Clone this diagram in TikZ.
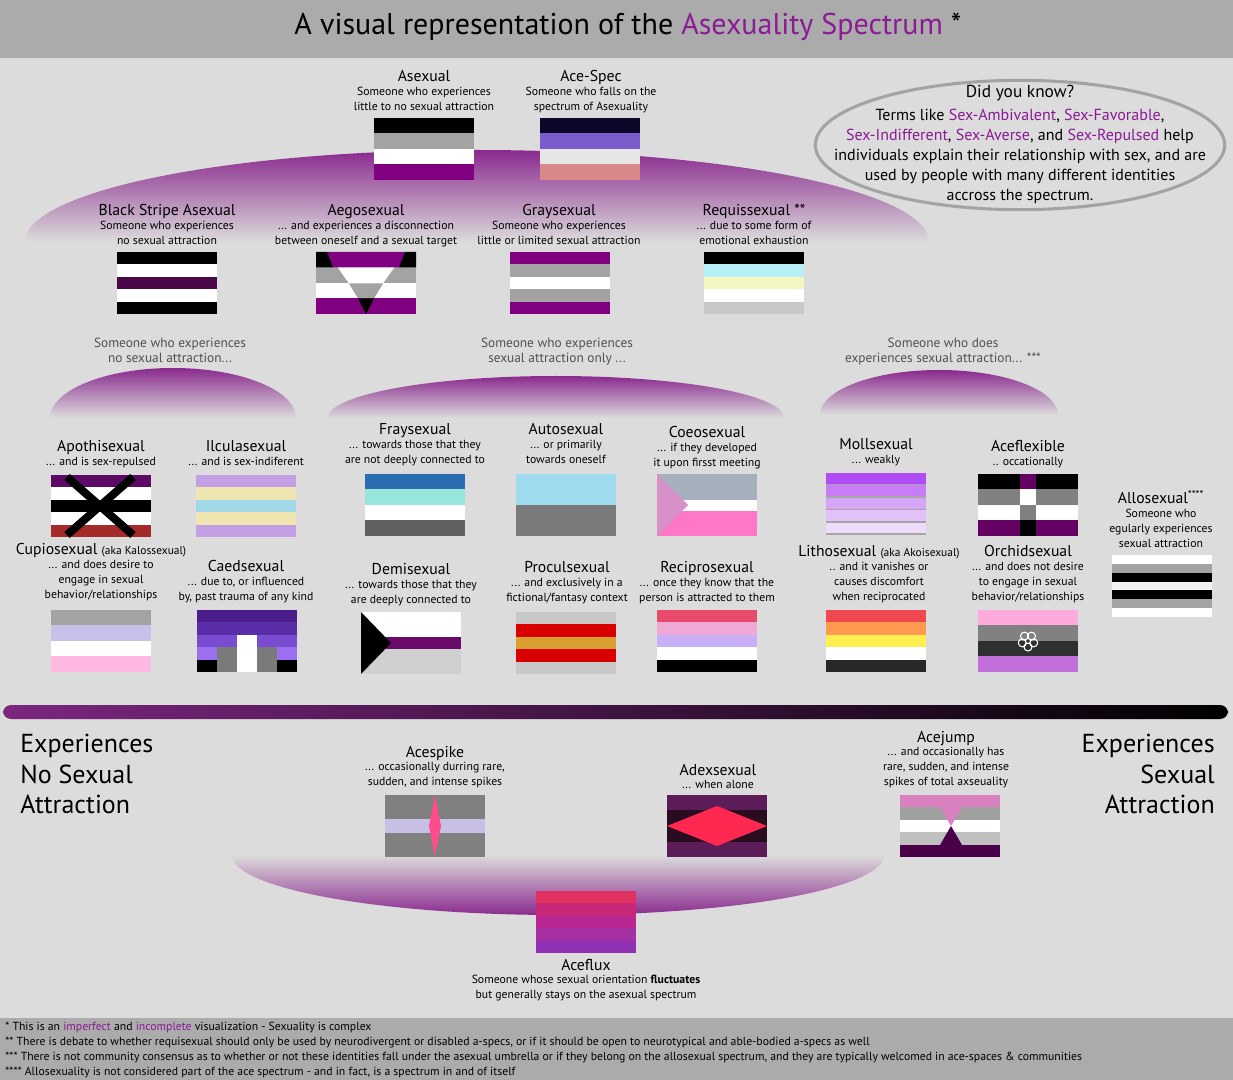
\documentclass[tikz,border=0pt]{standalone}
\usepackage{fontspec}
\setmainfont{PT Sans}
\usetikzlibrary{shapes.geometric}
\definecolor{bg}{HTML}{DCDCDC}
\definecolor{bar}{HTML}{ABABAB}
\definecolor{pp}{HTML}{8B1A95}
\definecolor{arc}{HTML}{8A2A8E}
\definecolor{sub}{HTML}{505050}
% flag colours
\definecolor{bk}{HTML}{000000}\definecolor{wh}{HTML}{FFFFFF}
\definecolor{gy}{HTML}{A3A3A3}\definecolor{pu}{HTML}{800080}
\definecolor{asA}{HTML}{0C0628}\definecolor{asB}{HTML}{7B5CCC}\definecolor{asC}{HTML}{E6E6E6}\definecolor{asD}{HTML}{D88888}
\definecolor{dpu}{HTML}{4A0848}
\definecolor{rqB}{HTML}{B8F0F8}\definecolor{rqC}{HTML}{F4F8C0}\definecolor{lg}{HTML}{C8C8C8}
\definecolor{apA}{HTML}{5C0A66}\definecolor{apE}{HTML}{A52A2A}
\definecolor{ilA}{HTML}{C3A0E5}\definecolor{ilB}{HTML}{EFE5B0}\definecolor{ilC}{HTML}{A0D8E8}
\definecolor{frA}{HTML}{2A6CB2}\definecolor{frB}{HTML}{96E6DC}\definecolor{frD}{HTML}{606060}
\definecolor{auA}{HTML}{9EDBEF}\definecolor{auB}{HTML}{7A7A7A}
\definecolor{coA}{HTML}{A6B0BC}\definecolor{coC}{HTML}{FF78C8}\definecolor{coT}{HTML}{D890C8}
\definecolor{moA}{HTML}{B04CF5}\definecolor{moB}{HTML}{C87CF5}\definecolor{moC}{HTML}{D4A6F5}\definecolor{moD}{HTML}{E2C0F8}\definecolor{moE}{HTML}{EEDCFC}
\definecolor{afP}{HTML}{650065}\definecolor{mg}{HTML}{808080}
\definecolor{cuB}{HTML}{C8C0E8}\definecolor{cuD}{HTML}{FFB8E0}
\definecolor{caA}{HTML}{4B1E8C}\definecolor{caB}{HTML}{5A2EA8}\definecolor{caC}{HTML}{7A4CD0}\definecolor{caD}{HTML}{9A70F0}
\definecolor{deP}{HTML}{6A0A6A}\definecolor{deG}{HTML}{D0D0D0}
\definecolor{prR}{HTML}{D80000}\definecolor{prG}{HTML}{D8A030}
\definecolor{reA}{HTML}{E84A6C}\definecolor{reB}{HTML}{F0A8D4}\definecolor{reC}{HTML}{C8B0F8}
\definecolor{liA}{HTML}{F04850}\definecolor{liB}{HTML}{FF9A50}\definecolor{liC}{HTML}{FFF050}\definecolor{dk}{HTML}{282828}
\definecolor{orA}{HTML}{FFAADC}\definecolor{orD}{HTML}{C070D8}\definecolor{orC}{HTML}{303030}
\definecolor{spL}{HTML}{C8C0E4}\definecolor{spP}{HTML}{FF4C8C}
\definecolor{adA}{HTML}{5C1C58}\definecolor{adB}{HTML}{2A0C20}\definecolor{adR}{HTML}{FF2850}
\definecolor{jpA}{HTML}{D880C0}\definecolor{jpE}{HTML}{4A0048}\definecolor{jpB}{HTML}{A0A0A0}\definecolor{jpD}{HTML}{C0C0C0}
\definecolor{fxA}{HTML}{E03060}\definecolor{fxB}{HTML}{C82878}\definecolor{fxC}{HTML}{B82890}\definecolor{fxD}{HTML}{A430A4}\definecolor{fxE}{HTML}{9030B4}
\newcommand\fl[4]{\foreach \c [count=\i from 0] in {#4}{\fill[\c] ({#1},{#2+\i*62/#3}) rectangle ++(100,62/#3);}}
\newcommand\lab[6]{% name, x, y(baseline of title), title, desc, ny
  \node[nm] (#1) at (#2,#3) {#4};
  \node[ds] (#1d) at (#2,#3+#6) {#5};}
\begin{document}
\begin{tikzpicture}[x=0.75pt,y=-0.75pt,
  nm/.style={anchor=base,inner sep=0,font=\fontsize{11.8}{13}\selectfont},
  ds/.style={anchor=north,inner sep=0,align=center,font=\fontsize{8.8}{11.25}\selectfont},
  gt/.style={anchor=north,inner sep=0,align=center,text=sub,font=\fontsize{10}{11.25}\selectfont},
  big/.style={inner sep=0,font=\fontsize{19.5}{22.5}\selectfont},
  fn/.style={anchor=base west,inner sep=0,font=\fontsize{8.8}{9}\selectfont}]
\useasboundingbox (0,0) rectangle (1233,1080);
\fill[bg] (0,0) rectangle (1233,1080);
\fill[bar] (0,0) rectangle (1233,58);
\fill[bar] (0,1018) rectangle (1233,1080);
% domes
\shade[top color=arc,bottom color=bg] (25,242) arc[start angle=180,end angle=360,x radius=452,y radius=92] -- cycle;
\shade[top color=arc,bottom color=bg] (50,418) arc[start angle=180,end angle=360,x radius=123,y radius=50] -- cycle;
\shade[top color=arc,bottom color=bg] (328,418) arc[start angle=180,end angle=360,x radius=228,y radius=42] -- cycle;
\shade[top color=arc,bottom color=bg] (820,415) arc[start angle=180,end angle=360,x radius=119,y radius=45] -- cycle;
\shade[bottom color=arc,top color=bg] (232,855) arc[start angle=180,end angle=0,x radius=326,y radius=60] -- cycle;
% spectrum bar
\shade[left color=arc!90!black,right color=black,rounded corners=6pt] (3,705) rectangle (1228,719);
% title
\node[inner sep=0,font=\fontsize{22.5}{26}\selectfont] (title) at (628,27) {A visual representation of the \textcolor{pp}{Asexuality Spectrum} *};
% did you know
\node[ellipse,draw=gy,line width=2.3pt,fill=bg,minimum width=307pt,minimum height=97pt] (dyk) at (1020,145) {};
\node[inner sep=0,anchor=base,font=\fontsize{13}{14}\selectfont] (dykh) at (1020,98) {Did you know?};
\node[inner sep=0,anchor=north,align=center,font=\fontsize{12}{15}\selectfont] (dykt) at (1020,109) {Terms like \textcolor{pp}{Sex-Ambivalent}, \textcolor{pp}{Sex-Favorable},\\ \textcolor{pp}{Sex-Indifferent}, \textcolor{pp}{Sex-Averse}, and \textcolor{pp}{Sex-Repulsed} help\\ individuals explain their relationship with sex, and are\\ used by people with many different identities\\ accross the spectrum.};
% ---------- top
\lab{ase}{424}{82}{Asexual}{Someone who experiences\\little to no sexual attraction}{5}
\fl{374}{118}{4}{bk,gy,wh,pu}
\lab{acs}{591}{82}{Ace-Spec}{Someone who falls on the\\spectrum of Asexuality}{5}
\fl{540}{118}{4}{asA,asB,asC,asD}
\lab{bsa}{167}{216}{Black Stripe Asexual}{Someone who experiences\\no sexual attraction}{5}
\fl{117}{252}{5}{bk,wh,dpu,wh,bk}
\lab{aeg}{366}{216}{Aegosexual}{... and experiences a disconnection\\between oneself and a sexual target}{5}
\fl{316}{252}{4}{pu,gy,wh,pu}
\fill[wh] (327,252)--(405,252)--(383,283.5)--(349,283.5)--cycle;
\fill[pu] (327,252)--(405,252)--(399,267.5)--(333,267.5)--cycle;
\fill[gy] (349,283.5)--(383,283.5)--(374,298.5)--(358,298.5)--cycle;
\fill[bk] (358,298.5)--(374,298.5)--(366,314)--cycle;
\fill[bk] (316,252)--(327,252)--(333,267.5)--(316,267.5)--cycle;
\fill[bk] (416,252)--(405,252)--(399,267.5)--(416,267.5)--cycle;
\lab{gra}{559}{216}{Graysexual}{Someone who experiences\\little or limited sexual attraction}{5}
\fl{510}{252}{5}{pu,gy,wh,gy,pu}
\lab{req}{754}{216}{Requissexual **}{... due to some form of\\emotional exhaustion}{5}
\fl{704}{252}{5}{bk,rqB,rqC,wh,lg}
% group captions
\node[gt] (g1) at (170,338) {Someone who experiences\\no sexual attraction...};
\node[gt] (g2) at (557,338) {Someone who experiences\\sexual attraction only ...};
\node[gt] (g3) at (943,338) {Someone who does\\experiences sexual attraction... ***};
% ---------- row 3
\lab{apo}{101}{452}{Apothisexual}{... and is sex-repulsed}{5}
\fl{51}{475}{5}{apA,wh,bk,wh,apE}
\draw[bk,line width=6pt] (67,477)--(133,535) (133,477)--(67,535);
\lab{ilc}{246}{452}{Ilculasexual}{... and is sex-indiferent}{5}
\fl{196}{475}{5}{ilA,ilB,ilC,ilB,ilA}
\lab{fra}{415}{435}{Fraysexual}{... towards those that they\\are not deeply connected to}{5}
\fl{365}{474}{4}{frA,frB,wh,frD}
\lab{aut}{566}{435}{Autosexual}{... or primarily\\towards oneself}{5}
\fl{516}{474}{2}{auA,auB}
\lab{coe}{707}{438}{Coeosexual}{... if they developed\\it upon firsst meeting}{5}
\fill[coA] (657,474) rectangle (757,500); \fill[wh] (657,500) rectangle (757,511); \fill[coC] (657,511) rectangle (757,536);
\fill[coT] (657,474)--(688,505)--(657,536)--cycle;
\lab{mol}{876}{450}{Mollsexual}{... weakly}{5}
\fl{826}{473}{5}{moA,moB,moC,moD,moE}
\foreach \k in {1,...,5}{\fill[mg!70] (826,473+\k*12.4-1.5) rectangle (926,473+\k*12.4);}
\lab{afl}{1028}{452}{Aceflexible}{.. occationally}{5}
\fl{978}{474}{4}{bk,mg,wh,afP}
\fill[afP] (1020,474) rectangle (1036,489.5); \fill[wh] (1020,489.5) rectangle (1036,505); \fill[mg] (1020,505) rectangle (1036,520.5); \fill[bk] (1020,520.5) rectangle (1036,536);
\lab{all}{1161}{504}{Allosexual\textsuperscript{****}}{Someone who\\egularly experiences\\sexual attraction}{5}
\fl{1112}{555}{7}{wh,gy,bk,wh!95!black,bk,gy,wh}
% ---------- row 4
\node[nm] (cup) at (101,555) {Cupiosexual {\fontsize{8.6}{10}\selectfont(aka Kalossexual)}};
\node[ds] (cupd) at (101,560) {... and does desire to\\engage in sexual\\behavior/relationships};
\fl{51}{610}{4}{gy,cuB,wh,cuD}
\lab{cae}{246}{572}{Caedsexual}{... due to, or influenced\\by, past trauma of any kind}{5}
\fl{197}{610}{5}{caA,caB,caC,caD,bk}
\fill[auB] (217,647) rectangle (277,672); \fill[wh] (237,634.6) rectangle (257,672);
\lab{dem}{411}{575}{Demisexual}{... towards those that they\\are deeply connected to}{5}
\fill[wh] (361,612) rectangle (461,637); \fill[deP] (361,637) rectangle (461,649); \fill[deG] (361,649) rectangle (461,674);
\fill[bk] (361,612)--(391,643)--(361,674)--cycle;
\lab{pro}{567}{573}{Proculsexual}{... and exclusively in a\\fictional/fantasy context}{5}
\fl{516}{612}{5}{lg,prR,prG,prR,lg}
\lab{rec}{707}{573}{Reciprosexual}{... once they know that the\\person is attracted to them}{5}
\fl{657}{610}{5}{reA,reB,reC,wh,bk}
\node[nm] (lit) at (879,557) {Lithosexual {\fontsize{8.6}{10}\selectfont(aka Akoisexual)}};
\node[ds] (litd) at (879,562) {.. and it vanishes or\\causes discomfort\\when reciprocated};
\fl{826}{610}{5}{liA,liB,liC,wh,dk}
\lab{orc}{1028}{557}{Orchidsexual}{... and does not desire\\to engage in sexual\\behavior/relationships}{5}
\fl{978}{610}{4}{orA,mg,orC,orD}
\begin{scope}[shift={(1028,641)},draw=wh,line width=0.8pt]
\foreach \a in {90,162,234,306,18}{\draw (\a:6) ellipse[x radius=4,y radius=4];}
\draw[fill=orC] (0,0) circle (2.5);
\end{scope}
% ---------- bottom section
\node[big,anchor=base west] (nosx) at (20,753) {Experiences};
\node[big,anchor=base west] (nosx2) at (20,783) {No Sexual};
\node[big,anchor=base west] (nosx3) at (20,813) {Attraction};
\node[big,anchor=base east] (sx) at (1215,753) {Experiences};
\node[big,anchor=base east] (sx2) at (1215,783) {Sexual};
\node[big,anchor=base east] (sx3) at (1215,813) {Attraction};
\lab{spk}{435}{757}{Acespike}{... occasionally durring rare,\\sudden, and intense spikes}{5}
\fill[mg] (385,795) rectangle (485,857); \fill[spL] (385,819) rectangle (485,833);
\fill[spP] (435,795)--(441,826)--(435,857)--(429,826)--cycle;
\lab{adx}{718}{775}{Adexsexual}{... when alone}{5}
\fill[adA] (667,795) rectangle (767,857); \fill[adB] (667,810) rectangle (767,842);
\fill[adR] (667,826)--(717,806)--(767,826)--(717,846)--cycle;
\lab{jmp}{946}{742}{Acejump}{... and occasionally has\\rare, sudden, and intense\\spikes of total axseuality}{5}
\fl{900}{795}{5}{jpA,jpB,wh,jpD,jpE}
\fill[jpA] (940,807)--(962,807)--(951,826)--cycle;
\fill[jpE] (951,826)--(940,845)--(962,845)--cycle;
\fl{536}{891}{5}{fxA,fxB,fxC,fxD,fxE}
\lab{flx}{586}{970}{Aceflux}{Someone whose sexual orientation \textbf{fluctuates}\\but generally stays on the asexual spectrum}{5}
% footer
\node[fn] (f1) at (5,1030) {* This is an \textcolor{pp}{imperfect} and \textcolor{pp}{incomplete} visualization - Sexuality is complex};
\node[fn] (f2) at (5,1045) {** There is debate to whether requisexual should only be used by neurodivergent or disabled a-specs, or if it should be open to neurotypical and able-bodied a-specs as well};
\node[fn] (f3) at (5,1060) {*** There is not community consensus as to whether or not these identities fall under the asexual umbrella or if they belong on the allosexual spectrum, and they are typically welcomed in ace-spaces \& communities};
\node[fn] (f4) at (5,1075) {**** Allosexuality is not considered part of the ace spectrum - and in fact, is a spectrum in and of itself};
\end{tikzpicture}
\end{document}
